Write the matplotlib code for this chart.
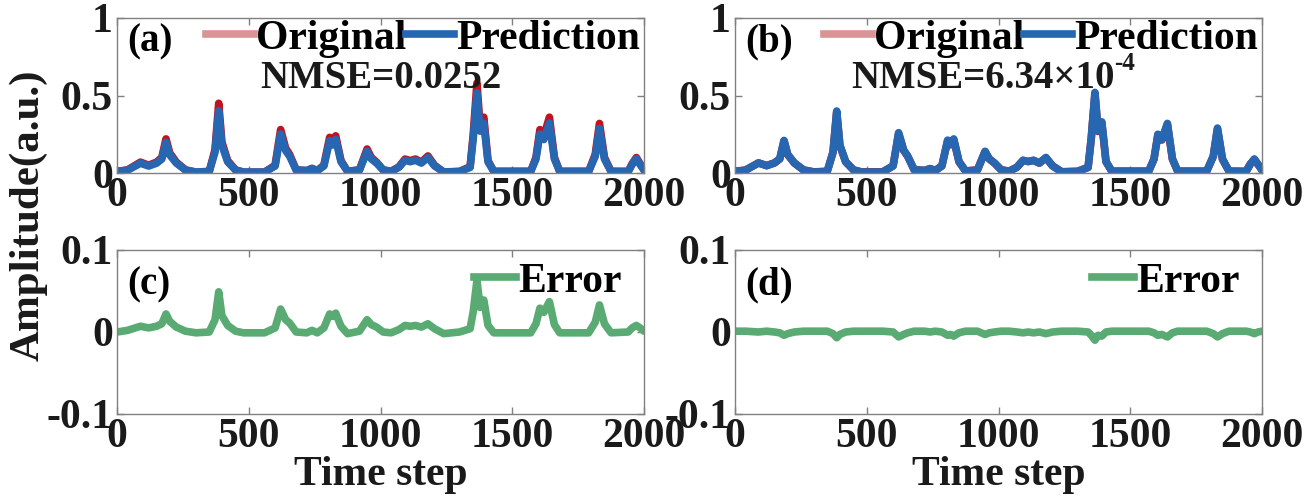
import matplotlib
matplotlib.use('Agg')
from matplotlib import pyplot as plt
from matplotlib.lines import Line2D

plt.rcParams['font.family'] = ['Liberation Serif', 'DejaVu Serif']
plt.rcParams['font.weight'] = 'bold'

time_steps = [0, 40, 89, 120, 150, 170, 186, 200, 225, 260,
              300, 350, 372, 386, 398, 420, 450, 480, 560, 600,
              621, 640, 655, 680, 720, 740, 760, 785, 807, 818,
              830, 850, 875, 920, 949, 965, 985, 1010, 1040, 1070,
              1093, 1113, 1133, 1155, 1180, 1205, 1240, 1300, 1340, 1352,
              1366, 1378, 1392, 1408, 1430, 1570, 1590, 1605, 1620, 1641,
              1660, 1680, 1790, 1815, 1831, 1850, 1875, 1940, 1955, 1971,
              1985, 2000]

original_a = [0.01, 0.02, 0.07, 0.05, 0.07, 0.10, 0.22, 0.13, 0.07, 0.02,
              0.005, 0.01, 0.15, 0.45, 0.20, 0.08, 0.02, 0.005, 0.005, 0.05,
              0.28, 0.16, 0.12, 0.02, 0.015, 0.03, 0.015, 0.05, 0.23, 0.20,
              0.24, 0.08, 0.01, 0.02, 0.155, 0.10, 0.07, 0.02, 0.01, 0.04,
              0.09, 0.08, 0.09, 0.07, 0.11, 0.05, 0.005, 0.01, 0.04, 0.25,
              0.58, 0.30, 0.36, 0.08, 0.01, 0.01, 0.10, 0.28, 0.24, 0.36,
              0.10, 0.01, 0.01, 0.12, 0.32, 0.10, 0.01, 0.01, 0.06, 0.10,
              0.06, 0.02]

prediction_a = [0.010, 0.018, 0.063, 0.045, 0.063, 0.090, 0.198, 0.117, 0.064, 0.019,
                0.006, 0.010, 0.135, 0.401, 0.180, 0.072, 0.019, 0.006, 0.006, 0.045,
                0.252, 0.145, 0.109, 0.020, 0.016, 0.028, 0.016, 0.045, 0.208, 0.181,
                0.217, 0.073, 0.012, 0.019, 0.140, 0.091, 0.064, 0.020, 0.011, 0.037,
                0.082, 0.073, 0.082, 0.064, 0.100, 0.046, 0.007, 0.010, 0.036, 0.225,
                0.517, 0.270, 0.321, 0.072, 0.011, 0.011, 0.090, 0.251, 0.216, 0.323,
                0.091, 0.011, 0.011, 0.108, 0.287, 0.090, 0.011, 0.010, 0.055, 0.092,
                0.055, 0.019]

error_c = [0.000, 0.002, 0.007, 0.005, 0.007, 0.010, 0.022, 0.013, 0.006, 0.001,
           -0.001, 0.000, 0.015, 0.049, 0.020, 0.008, 0.001, -0.001, -0.001, 0.005,
           0.028, 0.015, 0.011, 0.000, -0.001, 0.002, -0.001, 0.005, 0.022, 0.019,
           0.023, 0.007, -0.002, 0.001, 0.015, 0.009, 0.006, 0.000, -0.001, 0.003,
           0.008, 0.007, 0.008, 0.006, 0.010, 0.004, -0.002, 0.000, 0.004, 0.025,
           0.063, 0.030, 0.039, 0.008, -0.001, -0.001, 0.010, 0.029, 0.024, 0.037,
           0.009, -0.001, -0.001, 0.012, 0.033, 0.010, -0.001, 0.000, 0.005, 0.008,
           0.005, 0.001]

original_b = [0.011, 0.019, 0.065, 0.048, 0.065, 0.091, 0.206, 0.118, 0.065, 0.020,
              0.007, 0.011, 0.133, 0.393, 0.177, 0.072, 0.020, 0.007, 0.007, 0.046,
              0.254, 0.145, 0.109, 0.021, 0.017, 0.028, 0.017, 0.045, 0.208, 0.182,
              0.215, 0.073, 0.013, 0.020, 0.137, 0.090, 0.064, 0.021, 0.012, 0.037,
              0.081, 0.074, 0.081, 0.064, 0.098, 0.046, 0.008, 0.011, 0.036, 0.222,
              0.510, 0.268, 0.325, 0.073, 0.012, 0.012, 0.089, 0.246, 0.213, 0.314,
              0.090, 0.012, 0.012, 0.106, 0.284, 0.088, 0.012, 0.011, 0.056, 0.088,
              0.055, 0.020]

prediction_b = [0.010, 0.018, 0.065, 0.047, 0.065, 0.092, 0.210, 0.120, 0.065, 0.019,
                0.006, 0.010, 0.135, 0.400, 0.180, 0.072, 0.019, 0.006, 0.006, 0.046,
                0.260, 0.148, 0.110, 0.020, 0.016, 0.028, 0.016, 0.045, 0.212, 0.185,
                0.220, 0.074, 0.012, 0.019, 0.140, 0.091, 0.064, 0.020, 0.011, 0.037,
                0.082, 0.074, 0.082, 0.064, 0.100, 0.046, 0.007, 0.010, 0.036, 0.226,
                0.520, 0.272, 0.330, 0.073, 0.011, 0.011, 0.090, 0.250, 0.216, 0.320,
                0.091, 0.011, 0.011, 0.108, 0.290, 0.090, 0.011, 0.010, 0.056, 0.090,
                0.055, 0.019]

error_d = [0.001, 0.001, 0.000, 0.001, 0.000, -0.001, -0.004, -0.002, 0.000, 0.001,
           0.001, 0.001, -0.002, -0.007, -0.003, 0.000, 0.001, 0.001, 0.001, 0.000,
           -0.006, -0.003, -0.001, 0.001, 0.001, 0.000, 0.001, 0.000, -0.004, -0.003,
           -0.005, -0.001, 0.001, 0.001, -0.003, -0.001, 0.000, 0.001, 0.001, 0.000,
           -0.001, 0.000, -0.001, 0.000, -0.002, 0.000, 0.001, 0.001, 0.000, -0.004,
           -0.010, -0.004, -0.005, 0.000, 0.001, 0.001, -0.001, -0.004, -0.003, -0.006,
           -0.001, 0.001, 0.001, -0.002, -0.006, -0.002, 0.001, 0.001, 0.000, -0.002,
           0.000, 0.001]

x_ticks = [0, 500, 1000, 1500, 2000]
top_yticks = [0, 0.5, 1]
top_ylabels = ['0', '0.5', '1']
bottom_yticks = [-0.1, 0, 0.1]
bottom_ylabels = ['-0.1', '0', '0.1']

red = '#C4121C'
pink = '#D99595'
blue = '#2767B2'
green = '#5AAB73'
gris = '#808080'
noir = '#1a1a1a'
lw = 5.5
fs = 30

fig = plt.figure(figsize=(13.12, 5), dpi=100)
w = 527 / 1312
h_top = 155 / 500
h_bot = 164 / 500
ax_a = fig.add_axes([117 / 1312, 1 - 173 / 500, w, h_top])
ax_b = fig.add_axes([735 / 1312, 1 - 173 / 500, w, h_top])
ax_c = fig.add_axes([117 / 1312, 1 - 414 / 500, w, h_bot])
ax_d = fig.add_axes([735 / 1312, 1 - 414 / 500, w, h_bot])


def style(ax, yticks, ylabels, ylim):
    ax.set_xlim(0, 2000)
    ax.set_ylim(*ylim)
    ax.set_xticks(x_ticks)
    ax.set_xticklabels([str(t) for t in x_ticks])
    ax.set_yticks(yticks)
    ax.set_yticklabels(ylabels)
    ax.tick_params(direction='in', length=5, width=1, color=gris, top=True, right=True,
                   labelsize=fs, labelcolor=noir, pad=3)
    for s in ax.spines.values():
        s.set_color(gris)
        s.set_linewidth(1)


# (a) et (b)
for ax, orig, pred, tag in [(ax_a, original_a, prediction_a, '(a)'),
                            (ax_b, original_b, prediction_b, '(b)')]:
    ax.plot(time_steps, orig, color=red, lw=lw, solid_capstyle='round', solid_joinstyle='round')
    ax.plot(time_steps, pred, color=blue, lw=lw, solid_capstyle='round', solid_joinstyle='round')
    style(ax, top_yticks, top_ylabels, (0, 1))
    handles = [Line2D([], [], color=pink, lw=lw), Line2D([], [], color=blue, lw=lw)]
    ax.legend(handles, ['Original', 'Prediction'], loc='upper right', ncol=2, frameon=False,
              fontsize=fs, handlelength=1.15, handletextpad=0.05, columnspacing=0.0,
              borderaxespad=0.0, borderpad=0.1, bbox_to_anchor=(1.0, 1.015))
    ax.text(0.02, 0.845, tag, transform=ax.transAxes, ha='left', va='center', fontsize=28,
            color='black')

ax_a.text(0.5, 0.61, 'NMSE=0.0252', transform=ax_a.transAxes, ha='center', va='center',
          fontsize=28, color=noir)
nm = ax_b.text(0.47, 0.61, 'NMSE=6.34×10', transform=ax_b.transAxes, ha='center', va='center',
               fontsize=28, color=noir)
ax_b.annotate('-4', xy=(1.0, 0.9), xycoords=nm, ha='left', va='center', fontsize=18, color=noir)

# (c) et (d)
for ax, err, tag in [(ax_c, error_c, '(c)'), (ax_d, error_d, '(d)')]:
    ax.plot(time_steps, err, color=green, lw=lw, solid_capstyle='round', solid_joinstyle='round')
    style(ax, bottom_yticks, bottom_ylabels, (-0.1, 0.1))
    ax.legend([Line2D([], [], color=green, lw=lw)], ['Error'], loc='upper right', frameon=False,
              fontsize=fs, handlelength=1.0, handletextpad=0.05, borderaxespad=0.0,
              borderpad=0.1, bbox_to_anchor=(0.965, 0.95))
    ax.text(0.02, 0.79, tag, transform=ax.transAxes, ha='left', va='center', fontsize=28,
            color='black')
    ax.set_xlabel('Time step', fontsize=fs, fontweight='bold', labelpad=0, color=noir)

fig.text(0.022, 0.57, 'Amplitude(a.u.)', rotation=90, ha='center', va='center',
         fontsize=31, fontweight='bold', color=noir)

fig.savefig('out.png', dpi=100)
